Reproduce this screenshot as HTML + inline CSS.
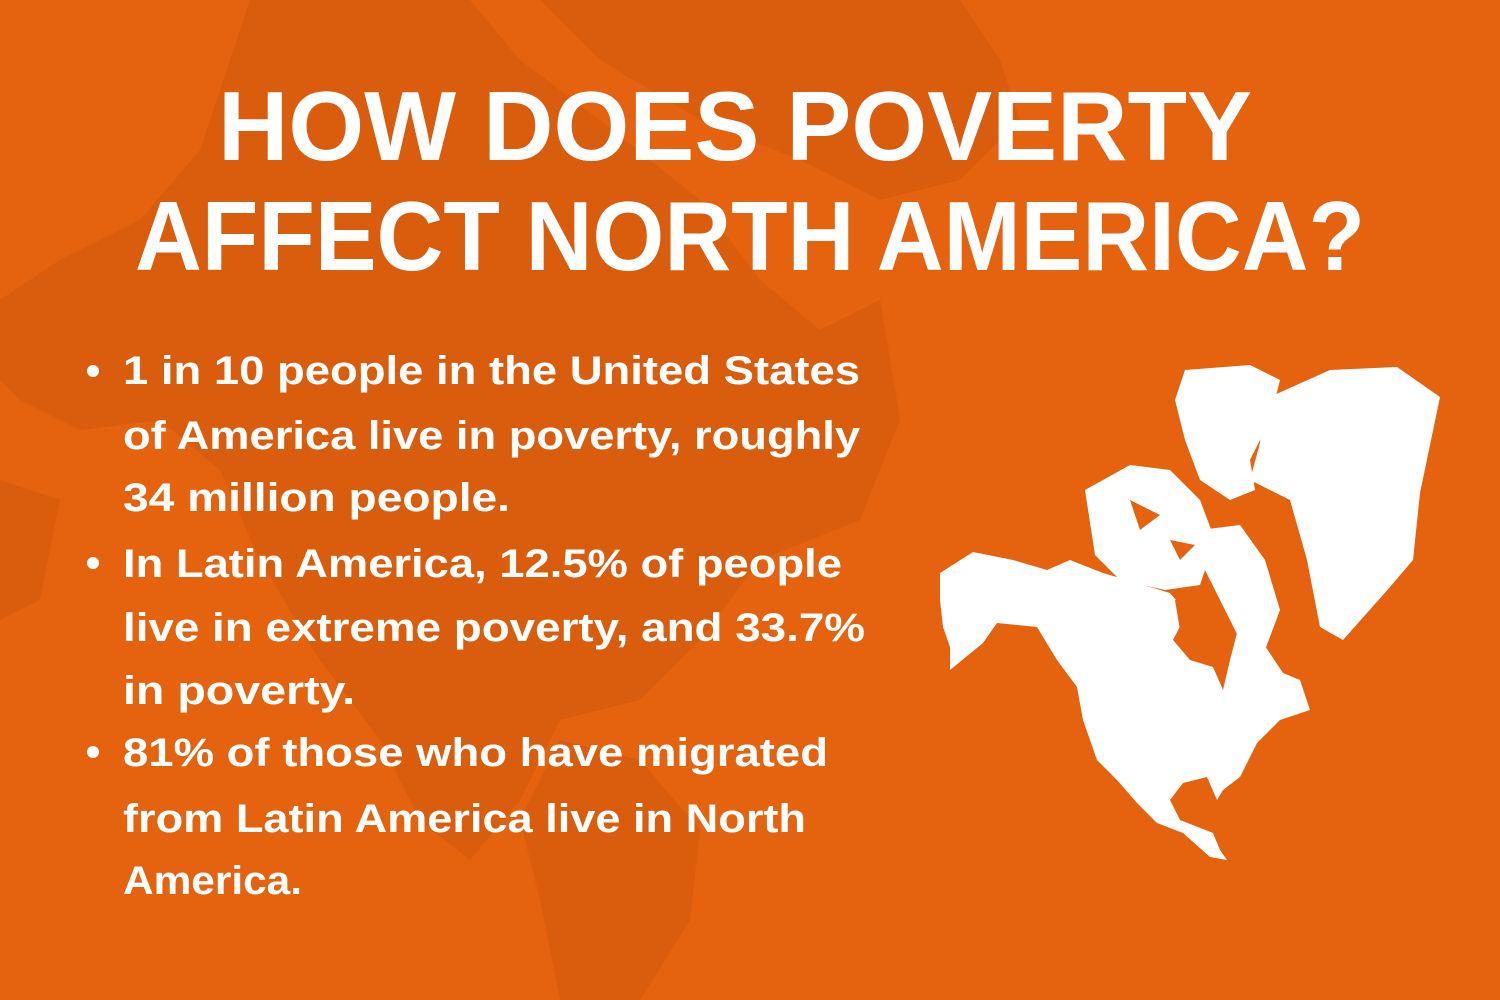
<!DOCTYPE html>
<html><head><meta charset="utf-8"><style>
html,body{margin:0;padding:0}
body{width:1500px;height:1000px;overflow:hidden;background:#E5620E}
svg{display:block}
text{font-family:"Liberation Sans",sans-serif;font-weight:bold;fill:#fff}
</style></head><body>
<svg width="1500" height="1000" viewBox="0 0 1500 1000">
<rect width="1500" height="1000" fill="#E5620E"/>
<g fill="#D2580D" opacity="0.55">
<path d="M250,0 L470,0 L520,60 L600,120 L700,200 L760,280 L820,330 L880,300 L900,420 L860,520 L760,560 L700,640 L640,700 L560,720 L520,800 L470,860 L420,820 L380,740 L320,660 L260,560 L220,470 L160,420 L80,430 L20,400 L0,380 L0,300 L60,260 L140,220 L200,150 Z"/>
<path d="M540,0 L960,0 L1000,60 L1020,120 L960,180 L880,200 L800,160 L700,120 L600,60 Z"/>
<path d="M560,740 L640,760 L700,830 L690,920 L640,1000 L560,1000 L540,900 L520,820 Z"/>
<path d="M0,480 L60,500 L40,600 L0,620 Z"/>
</g>
<text x="218" y="160" font-size="98" textLength="1034" lengthAdjust="spacingAndGlyphs">HOW DOES POVERTY</text>
<text x="135" y="270" font-size="98" textLength="1230" lengthAdjust="spacingAndGlyphs">AFFECT NORTH AMERICA?</text>
<g font-size="40">
<circle cx="93" cy="371" r="6" fill="#fff"/>
<circle cx="93" cy="563" r="6" fill="#fff"/>
<circle cx="93" cy="752" r="6" fill="#fff"/>
<text x="123" y="384" textLength="737" lengthAdjust="spacingAndGlyphs">1 in 10 people in the United States</text>
<text x="123" y="449" textLength="737" lengthAdjust="spacingAndGlyphs">of America live in poverty, roughly</text>
<text x="123" y="511" textLength="387" lengthAdjust="spacingAndGlyphs">34 million people.</text>
<text x="123" y="577" textLength="719" lengthAdjust="spacingAndGlyphs">In Latin America, 12.5% of people</text>
<text x="123" y="641" textLength="742" lengthAdjust="spacingAndGlyphs">live in extreme poverty, and 33.7%</text>
<text x="123" y="704" textLength="232" lengthAdjust="spacingAndGlyphs">in poverty.</text>
<text x="123" y="766" textLength="705" lengthAdjust="spacingAndGlyphs">81% of those who have migrated</text>
<text x="123" y="832" textLength="683" lengthAdjust="spacingAndGlyphs">from Latin America live in North</text>
<text x="123" y="894" textLength="179" lengthAdjust="spacingAndGlyphs">America.</text>
</g>
<g fill="#fff">
<path d="M940,573 L973,552 L1013,560 L1047,570 L1070,560 L1103,573 L1137,583 L1170,593 L1187,613 L1173,640 L1190,660 L1213,667 L1223,690 L1230,660 L1237,633 L1263,643 L1283,673 L1300,680 L1310,710 L1280,720 L1257,743 L1240,777 L1223,790 L1217,800 L1207,777 L1183,783 L1170,800 L1180,820 L1213,833 L1220,850 L1227,860 L1210,857 L1183,833 L1157,823 L1137,803 L1117,780 L1097,760 L1083,720 L1077,687 L1057,660 L1037,627 L997,623 L983,643 L950,670 L950,647 L943,627 L940,600 Z"/>
<path d="M1085,490 L1130,465 L1170,470 L1200,500 L1215,540 L1200,585 L1165,590 L1120,580 L1095,555 Z" />
<path d="M1200,530 L1240,525 L1265,560 L1280,610 L1265,650 L1240,640 L1220,600 L1205,570 Z"/>
<path d="M1185,370 L1250,365 L1280,380 L1270,420 L1250,460 L1255,490 L1230,500 L1200,480 L1185,440 L1175,400 Z"/>
<path d="M1263,400 L1330,370 L1397,367 L1440,397 L1420,493 L1413,560 L1390,587 L1343,640 L1320,627 L1307,560 L1290,500 L1250,480 L1260,443 Z"/>
</g>
<g fill="#E5620E">
<path d="M1175,600 L1210,598 L1225,630 L1222,660 L1200,650 L1180,630 Z"/>
<path d="M1130,500 L1140,530 L1160,515 Z"/>
<path d="M1170,540 L1180,560 L1195,545 Z"/>
</g>
</svg>
</body></html>
